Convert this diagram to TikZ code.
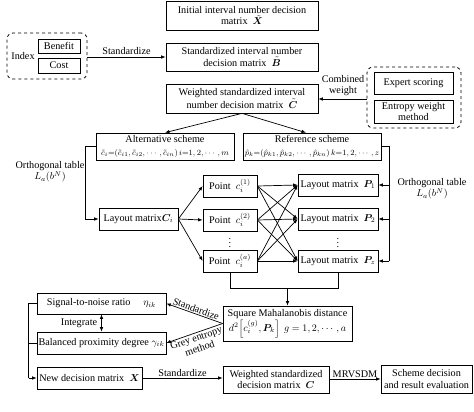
\documentclass[tikz,border=0pt]{standalone}
\usepackage{fontspec}
\usepackage{amsmath}
\usepackage{bm}
\setmainfont{Liberation Serif}
\usetikzlibrary{arrows.meta,calc}
\begin{document}
\begin{tikzpicture}[x=1pt,y=-1pt,
  every node/.style={font=\fontsize{10.2}{11.2}\selectfont},
  box/.style={draw,line width=0.7pt,inner sep=1pt,align=center},
  dbox/.style={draw,line width=0.8pt,dashed,rounded corners=6pt},
  lbl/.style={inner sep=1pt,align=center},
  conn/.style={line width=0.7pt},
  arr/.style={conn,-{Latex[length=4.5pt,width=3.5pt]}},
  darr/.style={conn,{Latex[length=4.5pt,width=3.5pt]}-{Latex[length=4.5pt,width=3.5pt]}}
]
\useasboundingbox (0,0) rectangle (474,412);

% top column
\node[box,minimum width=152pt,minimum height=29pt] (b1) at (242,15.5) {Initial interval number decision\\matrix \ $\tilde{\bm{X}}$};
\node[box,minimum width=152pt,minimum height=28pt] (b2) at (242,57) {Standardized interval number\\decision matrix \ $\tilde{\bm{B}}$};
\node[box,minimum width=152pt,minimum height=29pt] (b3) at (242,98.5) {Weighted standardized interval\\number decision matrix \ $\tilde{\bm{C}}$};

% index group
\node[dbox,minimum width=80pt,minimum height=46pt] (idx) at (47,56) {};
\node[lbl] (idxl) at (23,56) {Index};
\node[box,minimum width=42pt,minimum height=14pt] (ben) at (59,46) {Benefit};
\node[box,minimum width=42pt,minimum height=15pt] (cost) at (59,65.5) {Cost};

% weight group
\node[dbox,minimum width=94pt,minimum height=61pt] (wg) at (414,97.5) {};
\node[box,minimum width=79pt,minimum height=22pt] (exp) at (413.5,83) {Expert scoring};
\node[box,minimum width=79pt,minimum height=23pt] (ent) at (413.5,111.5) {Entropy weight\\method};

\draw[arr] (idx.east |- b2.west) -- node[lbl,above=1pt] (std1) {Standardize} (b2.west);
\draw[arr] (wg.west |- 0,99) -- (b3.east |- 0,99);
\node[lbl] (cw) at (343,85.5) {Combined\\weight};

% schemes
\node[box,minimum width=138pt,minimum height=27pt,inner sep=0pt] (alt) at (165,146.5) {Alternative scheme\\[1pt]{\fontsize{8.4}{9}\selectfont$\tilde c_i{=}(\tilde c_{i1},\tilde c_{i2},\cdots,\tilde c_{in})\,i{=}1,2,\cdots,m$}};
\node[box,minimum width=138pt,minimum height=27pt,inner sep=0pt] (ref) at (312,146.5) {Reference scheme\\[1pt]{\fontsize{8.4}{9}\selectfont$\hat p_k{=}(\hat p_{k1},\hat p_{k2},\cdots,\hat p_{kn})\,k{=}1,2,\cdots,z$}};
\draw[arr] (b3.south) -- (alt.north);
\draw[arr] (b3.south) -- ($(ref.north)+(-6,0)$);

% layout C
\node[box,minimum width=79pt,minimum height=22pt] (ci) at (138.5,219) {Layout matrix$\bm{C}_i$};
\draw[arr] (alt.west) -- ++(-10,0) |- (ci.west);
\node[lbl] (ot1) at (50,172) {Orthogonal table\\$L_a(b^N)$};

% points
\node[box,minimum width=54pt,minimum height=22pt] (p1) at (230,186) {Point \ $c_i^{(1)}$};
\node[box,minimum width=54pt,minimum height=22pt] (p2) at (230,220) {Point \ $c_i^{(2)}$};
\node[box,minimum width=54pt,minimum height=22pt] (pa) at (230,261) {Point \ $c_i^{(a)}$};
\node[lbl] (pd) at (230,240) {$\vdots$};

% layout P
\node[box,minimum width=80pt,minimum height=22pt] (q1) at (338,185) {Layout matrix \ $\bm{P}_1$};
\node[box,minimum width=80pt,minimum height=22pt] (q2) at (338,219) {Layout matrix \ $\bm{P}_2$};
\node[box,minimum width=80pt,minimum height=22pt] (qz) at (338,261) {Layout matrix \ $\bm{P}_z$};
\node[lbl] (qd) at (338,240) {$\vdots$};

\foreach \p in {p1,p2,pa} {\draw[arr] (ci.east) -- (\p.west);}
\foreach \p in {p1,p2,pa} {\foreach \q in {q1,q2,qz} {\draw[arr] (\p.east) -- (\q.west);}}

\draw[conn] (ref.east) -- ++(8,0) coordinate (rc) -- (rc |- qz.east);
\foreach \q in {q1,q2,qz} {\draw[arr] (rc |- \q.east) -- (\q.east);}
\node[lbl] (ot2) at (432,189) {Orthogonal table\\$L_a(b^N)$};

% Mahalanobis
\node[box,minimum width=129pt,minimum height=35pt] (mh) at (287.5,323.5) {Square Mahalanobis distance\\$d^2\!\left[c_i^{(g)},\bm{P}_k\right]\ g=1,2,\cdots,a$};
\draw[conn] (pa.south) -- ++(0,16) coordinate (jl) -| (qz.south);
\draw[arr] (jl -| mh.north) -- (mh.north);

% left bottom boxes
\node[box,minimum width=129pt,minimum height=21pt] (snr) at (101.5,303.5) {Signal-to-noise ratio \quad $\eta_{ik}$};
\node[box,minimum width=129pt,minimum height=22pt] (bal) at (101.5,343) {Balanced proximity degree $\gamma_{ik}$};
\node[box,minimum width=105pt,minimum height=22pt] (nx) at (89.5,378) {New decision matrix \ $\bm{X}$};
\draw[darr] (snr.south) -- (bal.north);
\node[lbl] (intg) at (79,323.5) {Integrate};
\draw[conn] (snr.west) -- ++(-8,0) coordinate (lc) -- (lc |- nx.west);
\draw[arr] (lc |- nx.west) -- (nx.west);
\draw[conn] (bal.west) -- (lc |- bal.west);

\draw[arr] (mh.west) -- node[lbl,sloped,above] (std2) {Standardize} (snr.east);
\draw[arr] (mh.west) -- node[lbl,sloped,below] (gem) {Grey entropy\\method} (bal.east);

% bottom row
\node[box,minimum width=106pt,minimum height=27pt] (wc) at (276,379.5) {Weighted standardized\\decision matrix \ $\bm{C}$};
\node[box,minimum width=91pt,minimum height=28pt] (sd) at (426.5,379) {Scheme decision\\and result evaluation};
\draw[arr] (nx.east) -- node[lbl,above] (std3) {Standardize} (nx.east -| wc.west);
\draw[arr] (wc.east |- sd.west) -- node[lbl,above] (mr) {MRVSDM} (sd.west);
\end{tikzpicture}
\end{document}
